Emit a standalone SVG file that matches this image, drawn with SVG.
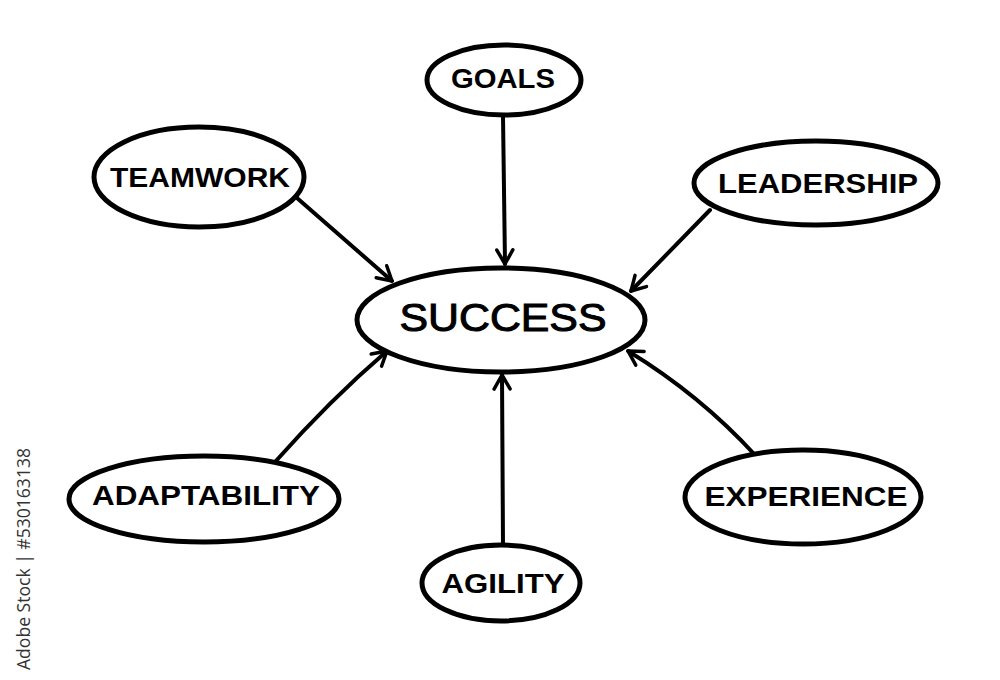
<svg xmlns="http://www.w3.org/2000/svg" width="1000" height="680" viewBox="0 0 1000 680">
<style>
.node ellipse{fill:#fff;stroke:#000;stroke-width:5}
.lbl{font-family:"Liberation Sans","DejaVu Sans",sans-serif;font-weight:bold;font-size:28px;fill:#000;text-anchor:middle}
.main{font-family:"Liberation Sans","DejaVu Sans",sans-serif;font-size:38px;fill:#000;text-anchor:middle;stroke:#000;stroke-width:1}
.conn path{fill:none;stroke:#000;stroke-width:4;stroke-linecap:round}
.wm{font-family:"Open Sans","DejaVu Sans",sans-serif;font-size:19px;fill:#333}
</style>
<defs>
<marker id="arr" viewBox="0 0 20 20" refX="18" refY="10" markerWidth="20" markerHeight="20" markerUnits="userSpaceOnUse" orient="auto">
<path d="M4,2 L18,10 L4,18" fill="none" stroke="#000" stroke-width="3.5" stroke-linecap="round" stroke-linejoin="round"/>
</marker>
</defs>
<rect width="1000" height="680" fill="#fff"/>
<g id="connectors" class="conn">
<path d="M503,116 L505,264" marker-end="url(#arr)"/>
<path d="M297,198 L392,281" marker-end="url(#arr)"/>
<path d="M710,210 L631,291" marker-end="url(#arr)"/>
<path d="M275,462 Q330,400 387,351" marker-end="url(#arr)"/>
<path d="M503,545 L502,375" marker-end="url(#arr)"/>
<path d="M755,455 Q700,395 628,351" marker-end="url(#arr)"/>
</g>
<g id="success" class="node">
<ellipse cx="501" cy="320" rx="144" ry="52"/>
<text class="main" x="503" y="331" textLength="207" lengthAdjust="spacingAndGlyphs">SUCCESS</text>
</g>
<g id="goals" class="node">
<ellipse cx="504" cy="80" rx="77" ry="35"/>
<text class="lbl" x="503" y="88" textLength="104" lengthAdjust="spacingAndGlyphs">GOALS</text>
</g>
<g id="teamwork" class="node">
<ellipse cx="199" cy="177" rx="105" ry="50"/>
<text class="lbl" x="200" y="187" textLength="180" lengthAdjust="spacingAndGlyphs">TEAMWORK</text>
</g>
<g id="leadership" class="node">
<ellipse cx="816" cy="183" rx="122" ry="42"/>
<text class="lbl" x="818" y="193" textLength="200" lengthAdjust="spacingAndGlyphs">LEADERSHIP</text>
</g>
<g id="adaptability" class="node">
<ellipse cx="204" cy="499" rx="135" ry="43"/>
<text class="lbl" x="206" y="505" textLength="228" lengthAdjust="spacingAndGlyphs">ADAPTABILITY</text>
</g>
<g id="experience" class="node">
<ellipse cx="803" cy="497" rx="118" ry="47"/>
<text class="lbl" x="806" y="506" textLength="203" lengthAdjust="spacingAndGlyphs">EXPERIENCE</text>
</g>
<g id="agility" class="node">
<ellipse cx="501" cy="583" rx="79" ry="38"/>
<text class="lbl" x="503" y="593" textLength="123" lengthAdjust="spacingAndGlyphs">AGILITY</text>
</g>
<text class="wm" transform="translate(30,670) rotate(-90)" textLength="222" lengthAdjust="spacingAndGlyphs">Adobe Stock | #530163138</text>
</svg>
